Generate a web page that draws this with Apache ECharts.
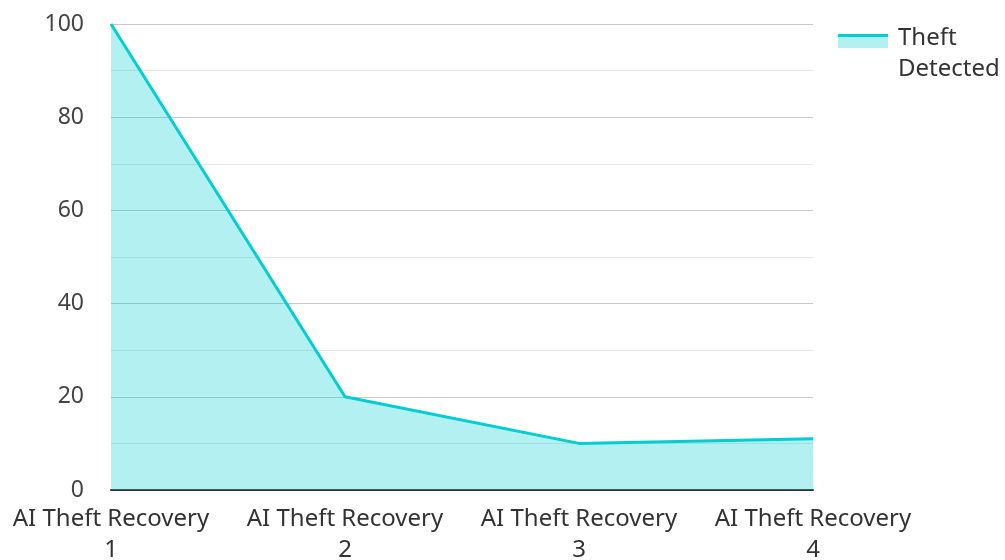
<!DOCTYPE html>
<html>
<head>
<meta charset="utf-8">
<script src="https://cdn.jsdelivr.net/npm/echarts@6/dist/echarts.min.js"></script>
<style>
    html, body { margin: 0; padding: 0; background: #fff; }
    .main { width: 1005px; height: 560px; }
</style>
</head>
<body>
<div class="main"></div>
<script>
var categories = ['AI Theft Recovery 1', 'AI Theft Recovery 2', 'AI Theft Recovery 3', 'AI Theft Recovery 4'];
var theftDetected = [100, 20, 10, 11];
var seriesName = 'Theft Detected';

(function () {
    var myChart = echarts.init(document.querySelector('.main'));
    var option = {
        textStyle: {
            fontFamily: 'Noto Sans'
        },
        color: ['#00ced1'],
        grid: {
            left: 111,
            right: 192,
            top: 24,
            bottom: 70,
            outerBoundsMode: 'none'
        },
        legend: {
            data: [seriesName],
            left: 838,
            top: 5,
            padding: 0,
            orient: 'vertical',
            icon: 'rect',
            itemWidth: 50,
            itemHeight: 14,
            itemStyle: {
                color: {
                    type: 'linear',
                    x: 0, y: 0, x2: 0, y2: 1,
                    colorStops: [
                        { offset: 0, color: '#00ced1' },
                        { offset: 0.22, color: '#00ced1' },
                        { offset: 0.22, color: '#b2f0f1' },
                        { offset: 1, color: '#b2f0f1' }
                    ]
                }
            },
            formatter: function () {
                return '{s|}\n{t|Theft}\n{t|Detected}';
            },
            textStyle: {
                fontSize: 24,
                color: '#333',
                rich: {
                    s: {
                        fontSize: 10,
                        lineHeight: 26
                    },
                    t: {
                        fontSize: 24,
                        color: '#333',
                        lineHeight: 31,
                        padding: [0, 0, 0, 5]
                    }
                }
            }
        },
        xAxis: {
            type: 'category',
            boundaryGap: false,
            data: categories,
            axisTick: {
                show: false
            },
            axisLine: {
                lineStyle: {
                    color: '#333',
                    width: 2
                }
            },
            axisLabel: {
                fontSize: 24,
                color: '#333',
                margin: 14,
                lineHeight: 31,
                interval: 0,
                formatter: function (v) {
                    var i = v.lastIndexOf(' ');
                    return v.slice(0, i) + '\n' + v.slice(i + 1);
                }
            }
        },
        yAxis: {
            type: 'value',
            min: 0,
            max: 100,
            interval: 20,
            axisLine: {
                show: false
            },
            axisTick: {
                show: false
            },
            axisLabel: {
                fontSize: 23,
                color: '#444',
                margin: 27
            },
            splitLine: {
                lineStyle: {
                    color: '#c8c8c8',
                    width: 1
                }
            },
            minorTick: {
                show: false,
                splitNumber: 2
            },
            minorSplitLine: {
                show: true,
                lineStyle: {
                    color: '#e6e6e6',
                    width: 1
                }
            }
        },
        series: [
            {
                name: seriesName,
                type: 'line',
                data: theftDetected,
                symbol: 'none',
                lineStyle: {
                    width: 3,
                    color: '#00ced1'
                },
                areaStyle: {
                    color: '#00ced1',
                    opacity: 0.3
                }
            }
        ]
    };
    myChart.setOption(option);
    window.addEventListener('resize', function () {
        myChart.resize();
    });
})();
</script>
</body>
</html>
